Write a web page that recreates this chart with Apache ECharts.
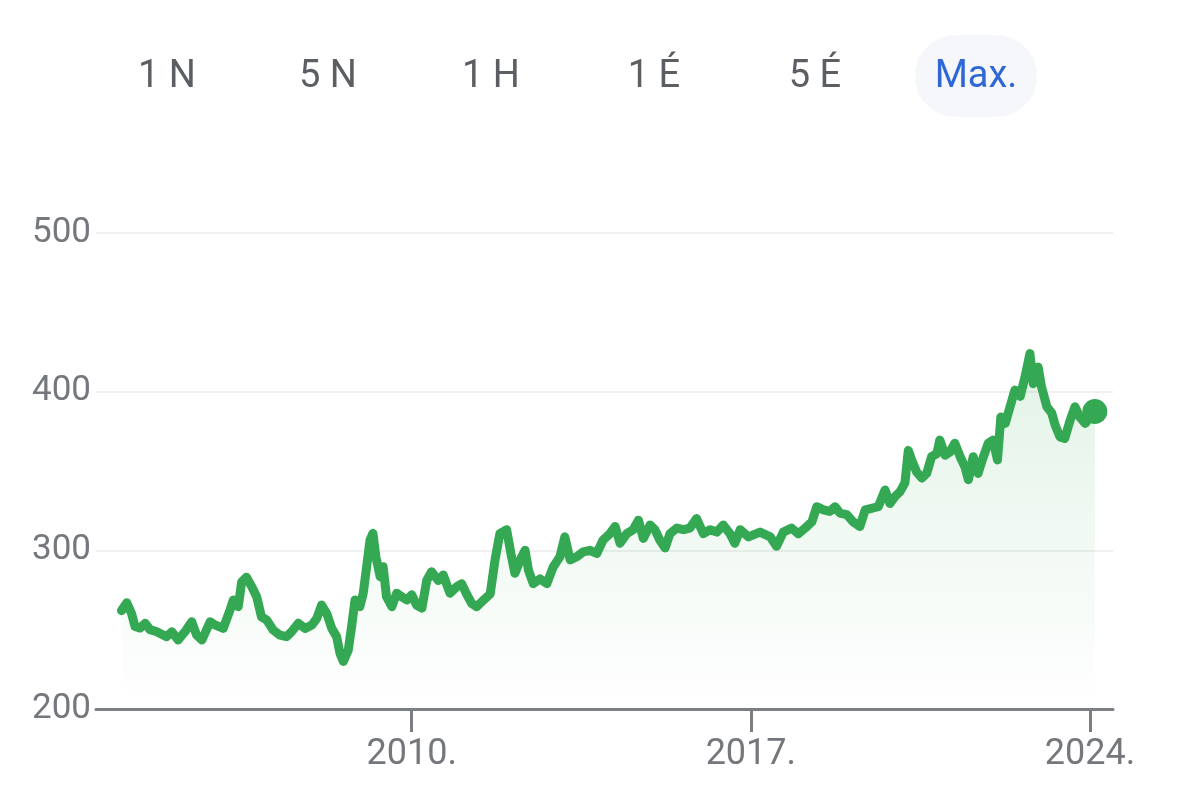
<!DOCTYPE html>
<html>
<head>
<meta charset="utf-8">
<script src="https://cdn.jsdelivr.net/npm/echarts@6/dist/echarts.min.js"></script>
<style>
  html, body { margin: 0; padding: 0; background: #ffffff; }
  #chart { width: 1180px; height: 812px; }
</style>
</head>
<body>
<div id="chart"></div>
<script>
// ---- data ----
var rangeTabs = ['1 N', '5 N', '1 H', '1 É', '5 É', 'Max.'];
var activeTab = 'Max.';
var xTickYears = [2010, 2017, 2024];
var yMin = 200, yMax = 500, yStep = 100;

var years = [
  2004.01, 2004.12, 2004.22, 2004.29, 2004.39, 2004.50, 2004.60, 2004.74, 2004.94, 2005.05,
  2005.18, 2005.32, 2005.46, 2005.56, 2005.67, 2005.84, 2005.94, 2006.11, 2006.25, 2006.32,
  2006.42, 2006.49, 2006.59, 2006.70, 2006.80, 2006.90, 2007.01, 2007.14, 2007.28, 2007.42,
  2007.52, 2007.66, 2007.80, 2007.94, 2008.04, 2008.14, 2008.25, 2008.35, 2008.45, 2008.52,
  2008.59, 2008.69, 2008.76, 2008.83, 2008.93, 2009.00, 2009.07, 2009.14, 2009.20, 2009.26,
  2009.35, 2009.41, 2009.48, 2009.59, 2009.69, 2009.79, 2009.90, 2010.00, 2010.10, 2010.21,
  2010.31, 2010.41, 2010.55, 2010.65, 2010.79, 2010.93, 2011.03, 2011.14, 2011.24, 2011.34,
  2011.48, 2011.62, 2011.72, 2011.82, 2011.96, 2012.06, 2012.13, 2012.24, 2012.34, 2012.41,
  2012.51, 2012.65, 2012.79, 2012.92, 2013.06, 2013.16, 2013.27, 2013.41, 2013.54, 2013.68,
  2013.82, 2013.95, 2014.09, 2014.20, 2014.30, 2014.44, 2014.57, 2014.68, 2014.78, 2014.92,
  2015.02, 2015.12, 2015.23, 2015.33, 2015.47, 2015.61, 2015.74, 2015.88, 2016.02, 2016.16,
  2016.30, 2016.43, 2016.57, 2016.67, 2016.78, 2016.95, 2017.19, 2017.40, 2017.53, 2017.67,
  2017.84, 2017.98, 2018.12, 2018.26, 2018.36, 2018.50, 2018.63, 2018.74, 2018.84, 2018.98,
  2019.11, 2019.25, 2019.36, 2019.49, 2019.63, 2019.77, 2019.87, 2019.98, 2020.08, 2020.18,
  2020.25, 2020.32, 2020.42, 2020.53, 2020.63, 2020.73, 2020.84, 2020.90, 2021.01, 2021.11,
  2021.21, 2021.32, 2021.42, 2021.49, 2021.59, 2021.69, 2021.80, 2021.90, 2022.00, 2022.09,
  2022.16, 2022.25, 2022.35, 2022.45, 2022.56, 2022.66, 2022.76, 2022.83, 2022.93, 2023.00,
  2023.11, 2023.21, 2023.28, 2023.38, 2023.48, 2023.59, 2023.69, 2023.79, 2023.90, 2024.00,
  2024.10
];

var prices = [
  262, 267, 260, 252, 251, 254, 250, 248.7, 245.6, 248.7,
  243.5, 248.7, 255, 246.6, 243.5, 255, 253, 250.8, 262.4, 268.7,
  264.5, 280, 283, 277, 270.8, 258, 256, 249.8, 246.6, 245.6,
  248.7, 254, 250.8, 253, 257, 265.5, 260, 250.8, 245.6, 235,
  230, 237, 252, 268.7, 264.5, 273, 289.7, 306.5, 310.7, 296,
  283.4, 289.7, 270.8, 264.5, 273, 270.8, 268.7, 272, 265.5, 263.5,
  281, 286.5, 281, 284.5, 273, 277, 279, 272, 266.5, 264.5,
  268.5, 272.5, 294, 310.5, 313, 296, 285.5, 294, 300, 287.5,
  279, 282, 279, 289.5, 296, 308.5, 294, 296, 299, 300,
  298, 306.5, 310.5, 315, 304.5, 310.5, 313, 319, 307.5, 316,
  313, 306.5, 301.5, 310.5, 314, 313, 314, 320, 310.5, 313,
  311.5, 316, 310.5, 304.5, 313, 308.5, 311.5, 308.5, 302.5, 311.5,
  314, 310.5, 314, 318, 327.5, 325.5, 324.5, 327.5, 323.5, 322.5,
  318, 315, 325.5, 326.5, 327.5, 338, 329.5, 334, 337, 342.5,
  363, 357, 349.5, 345.5, 348.5, 359, 361, 369.5, 360, 362,
  367.5, 359, 352.5, 344.5, 359, 348.5, 359, 367.5, 369.5, 357,
  384, 380, 390.5, 401, 397, 409.5, 424, 405, 415.5, 403,
  390.5, 386.5, 379, 371.5, 370.5, 382, 390.5, 384, 380, 384,
  387.5
];

// ---- chart ----
var GREEN = '#34a853';
var series = years.map(function (y, i) { return [y, prices[i]]; });
var lastPoint = series[series.length - 1];

var tabCenters = [167, 328, 491, 654, 815, 976];
var graphics = [];
rangeTabs.forEach(function (t, i) {
  var isActive = t === activeTab;
  if (isActive) {
    graphics.push({
      type: 'rect',
      shape: { x: tabCenters[i] - 61, y: 35, width: 122, height: 82, r: 41 },
      style: { fill: '#f5f7fa' },
      z: 10
    });
  }
  graphics.push({
    type: 'text',
    x: tabCenters[i],
    y: 77,
    style: {
      text: t,
      fill: isActive ? '#2f68d6' : '#5b5e62',
      font: '38px Roboto, "Liberation Sans", Arial, sans-serif',
      textAlign: 'center',
      textVerticalAlign: 'middle'
    },
    z: 11
  });
});

var chart = echarts.init(document.getElementById('chart'), null, { renderer: 'canvas' });
chart.setOption({
  animation: false,
  backgroundColor: '#ffffff',
  graphic: graphics,
  grid: { left: 96, right: 67, top: 233, bottom: 103, containLabel: false },
  xAxis: {
    type: 'value',
    min: 2003.484,
    max: 2024.475,
    axisLine: { show: true, lineStyle: { color: '#7b7e82', width: 3 } },
    axisTick: { show: true, customValues: xTickYears, length: 23, lineStyle: { color: '#7b7e82', width: 3 } },
    axisLabel: {
      customValues: xTickYears,
      formatter: function (v) { return v + '.'; },
      fontSize: 36,
      color: '#74777b',
      fontFamily: 'Roboto, "Liberation Sans", Arial, sans-serif',
      margin: 28
    },
    splitLine: { show: false }
  },
  yAxis: {
    type: 'value',
    min: yMin,
    max: yMax,
    interval: yStep,
    axisLine: { show: false },
    axisTick: { show: false },
    axisLabel: {
      fontSize: 35,
      color: '#74777b',
      fontFamily: 'Roboto, "Liberation Sans", Arial, sans-serif',
      margin: 5
    },
    splitLine: { show: true, lineStyle: { color: '#f0f0f0', width: 2 } }
  },
  series: [
    {
      type: 'line',
      data: series,
      showSymbol: false,
      symbol: 'none',
      lineStyle: { color: GREEN, width: 9, join: 'round', cap: 'round' },
      areaStyle: {
        color: {
          type: 'linear', x: 0, y: 0, x2: 0, y2: 1,
          colorStops: [
            { offset: 0, color: 'rgba(52,168,83,0.20)' },
            { offset: 1, color: 'rgba(52,168,83,0.0)' }
          ]
        }
      },
      z: 3
    },
    {
      type: 'scatter',
      data: [lastPoint],
      symbolSize: 25,
      itemStyle: { color: GREEN, opacity: 1 },
      z: 5
    }
  ]
});
</script>
</body>
</html>
